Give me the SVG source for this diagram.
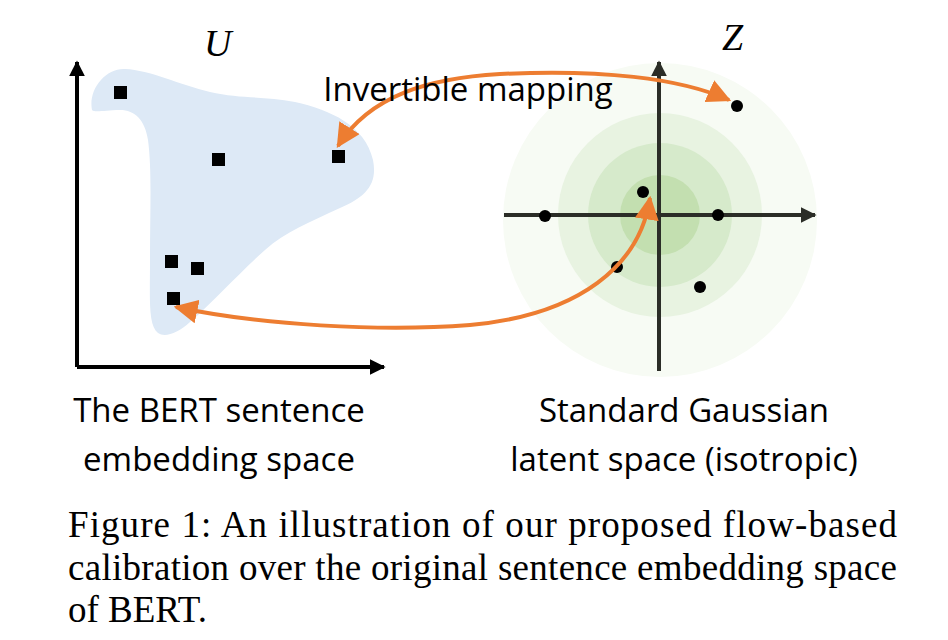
<svg xmlns="http://www.w3.org/2000/svg" width="948" height="640" viewBox="0 0 948 640">
<style>
.ax{stroke:#000;stroke-width:4;fill:none}
.gx{stroke:#2b2d27;stroke-width:4;fill:none}
.sq{fill:#000}
.dot{fill:#000}
.map{stroke:#ed7d31;stroke-width:4;fill:none}
.lbl{font-family:"Open Sans","DejaVu Sans",sans-serif;font-size:33px;fill:#000;text-anchor:middle}
.var{font-family:"Liberation Serif",serif;font-style:italic;font-size:38px;fill:#000}
.cap{font-family:"Liberation Serif",serif;font-size:37px;fill:#000}
</style>
<defs>
<marker id="ah" viewBox="0 0 10 10" refX="9" refY="5" markerWidth="6" markerHeight="6" orient="auto-start-reverse" markerUnits="strokeWidth"><path d="M0,0 L10,5 L0,10 z" fill="#ed7d31"/></marker>
<marker id="bk" viewBox="0 0 10 10" refX="9" refY="5" markerWidth="4" markerHeight="4" orient="auto" markerUnits="strokeWidth"><path d="M0,0 L10,5 L0,10 z" fill="#000"/></marker>
<marker id="gk" viewBox="0 0 10 10" refX="9" refY="5" markerWidth="4" markerHeight="4" orient="auto" markerUnits="strokeWidth"><path d="M0,0 L10,5 L0,10 z" fill="#2b2d27"/></marker>
</defs>
<g id="bert-space">
<path d="M92,110 C88,90 105,68 125,69 C150,70 180,85 210,92 C240,99 265,96 295,102 C330,110 365,125 373,160 C378,185 365,197 340,208 C310,222 285,232 265,250 C240,272 215,300 190,322 C178,333 165,338 158,333 C148,325 150,300 150,260 C150,210 152,170 148,140 C145,120 135,110 120,110 C105,110 95,113 92,110 Z" fill="#dde9f6"/>
<path class="ax" d="M77,367 V62" marker-end="url(#bk)"/>
<path class="ax" d="M77,367 H384" marker-end="url(#bk)"/>
<rect class="sq" x="114" y="86" width="13" height="13"/>
<rect class="sq" x="212" y="153" width="13" height="13"/>
<rect class="sq" x="332" y="150" width="13" height="13"/>
<rect class="sq" x="165" y="255" width="13" height="13"/>
<rect class="sq" x="191" y="262" width="13" height="13"/>
<rect class="sq" x="167" y="292" width="13" height="13"/>
<text class="var" x="204" y="56">U</text>
</g>
<g id="gaussian-space">
<circle cx="660" cy="220" r="157" fill="#f7fbf4"/>
<circle cx="660" cy="215" r="102" fill="#e8f3e1"/>
<circle cx="660" cy="215" r="72" fill="#d6eacb"/>
<circle cx="660" cy="215" r="40" fill="#c3dfb0"/>
<path class="gx" d="M659,371 V62" marker-end="url(#gk)"/>
<path class="gx" d="M504,215 H815" marker-end="url(#gk)"/>
<circle class="dot" cx="737" cy="106" r="6"/>
<circle class="dot" cx="643" cy="192" r="6"/>
<circle class="dot" cx="545" cy="216" r="6"/>
<circle class="dot" cx="718" cy="215" r="6"/>
<circle class="dot" cx="617" cy="267" r="6"/>
<circle class="dot" cx="700" cy="287" r="6"/>
<text class="var" x="722" y="50">Z</text>
</g>
<g id="connectors">
<path class="map" d="M338,146 C370,95 430,78 500,74 C600,69 680,78 729,100" marker-start="url(#ah)" marker-end="url(#ah)"/>
<path class="map" d="M176,307 C260,325 380,332 470,325 C580,315 640,265 650,198" marker-start="url(#ah)" marker-end="url(#ah)"/>
</g>
<text class="lbl" x="468" y="101">Invertible mapping</text>
<text class="lbl" x="219" y="422">The BERT sentence</text>
<text class="lbl" x="219" y="471">embedding space</text>
<text class="lbl" x="684" y="422">Standard Gaussian</text>
<text class="lbl" x="684" y="471">latent space (isotropic)</text>
<text class="cap" x="68" y="537" textLength="829" lengthAdjust="spacing">Figure 1:   An illustration of our proposed flow-based</text>
<text class="cap" x="68" y="580" textLength="829" lengthAdjust="spacing">calibration over the original sentence embedding space</text>
<text class="cap" x="68" y="622">of BERT.</text>
</svg>
